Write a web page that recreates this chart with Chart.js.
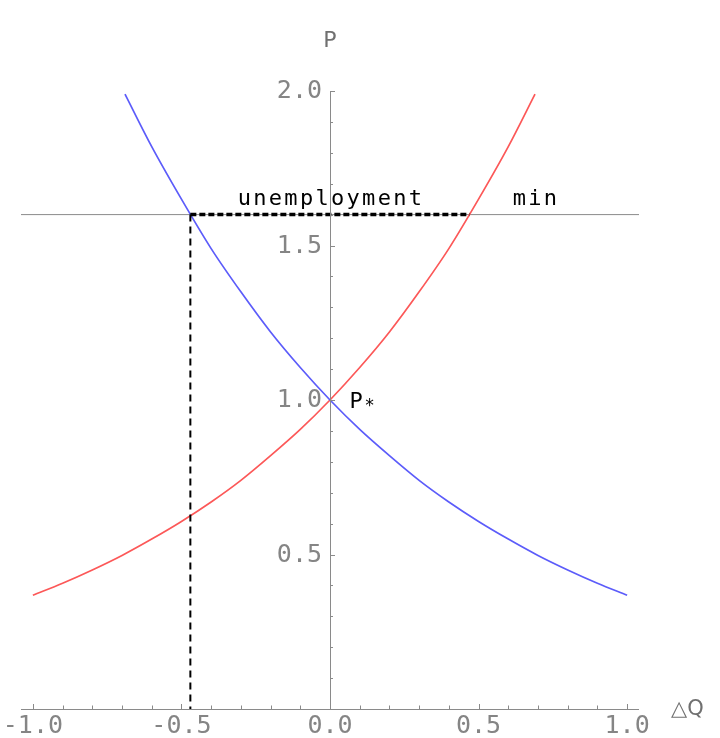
<!DOCTYPE html>
<html>
<head>
<meta charset="utf-8">
<script src="https://cdn.jsdelivr.net/npm/chart.js@4.4.1/dist/chart.umd.min.js"></script>
<style>
  html, body { margin: 0; padding: 0; background: #fff; }
  #wrap { width: 720px; height: 738px; position: relative; }
</style>
</head>
<body>
<div id="wrap"><canvas id="myChart"></canvas></div>
<script>
// demand curve (blue)
const demandQ = [-0.69, -0.6, -0.5, -0.4, -0.3, -0.2, -0.1, 0.0, 0.1, 0.2, 0.3, 0.4, 0.5, 0.6, 0.7, 0.8, 0.9, 1.0];
const demandP = [1.99, 1.82, 1.65, 1.49, 1.35, 1.22, 1.105, 1.0, 0.905, 0.82, 0.74, 0.67, 0.607, 0.55, 0.497, 0.45, 0.407, 0.368];

// supply curve (red)
const supplyQ = [-1.0, -0.9, -0.8, -0.7, -0.6, -0.5, -0.4, -0.3, -0.2, -0.1, 0.0, 0.1, 0.2, 0.3, 0.4, 0.5, 0.6, 0.69];
const supplyP = [0.368, 0.407, 0.45, 0.497, 0.55, 0.607, 0.67, 0.74, 0.82, 0.905, 1.0, 1.105, 1.22, 1.35, 1.49, 1.65, 1.82, 1.99];

// minimum price line and the gap
const pMin = 1.6;
const qDemandAtMin = -0.47;
const qSupplyAtMin = 0.47;
const pStar = 1.0;

// axes
const qRange = [-1.04, 1.04];
const pRange = [0, 2.0];
const xTicks = [-1.0, -0.5, 0.0, 0.5, 1.0];
const yTicks = [0.5, 1.0, 1.5, 2.0];
const minorStep = 0.1;

const toPts = (xs, ys) => xs.map((x, i) => ({ x: x, y: ys[i] }));

const GRAY = "#8a8a8a";
const LABEL_GRAY = "#858585";

const axesPlugin = {
  id: "mathAxes",
  afterDatasetsDraw(chart) {
    const ctx = chart.ctx;
    const xs = chart.scales.x, ys = chart.scales.y;
    const x0 = xs.getPixelForValue(0);
    const y0 = ys.getPixelForValue(0);
    const left = xs.getPixelForValue(qRange[0]);
    const right = xs.getPixelForValue(qRange[1]);
    const top = ys.getPixelForValue(pRange[1]);

    ctx.save();
    ctx.strokeStyle = GRAY;
    ctx.lineWidth = 1;
    ctx.beginPath();
    ctx.moveTo(left, Math.round(y0) + 0.5);
    ctx.lineTo(right, Math.round(y0) + 0.5);
    ctx.moveTo(Math.round(x0) + 0.5, y0);
    ctx.lineTo(Math.round(x0) + 0.5, top);
    ctx.stroke();

    // x minor / major ticks (pointing up)
    ctx.beginPath();
    for (let i = -10; i <= 10; i++) {
      const v = i * minorStep;
      const px = Math.round(xs.getPixelForValue(v)) + 0.5;
      const len = (i % 5 === 0) ? 5 : 3.5;
      ctx.moveTo(px, y0);
      ctx.lineTo(px, y0 - len);
    }
    // y minor / major ticks (pointing right)
    for (let i = 1; i <= 20; i++) {
      const v = i * minorStep;
      const py = Math.round(ys.getPixelForValue(v)) + 0.5;
      const len = (i % 5 === 0) ? 5 : 3;
      ctx.moveTo(x0, py);
      ctx.lineTo(x0 + len, py);
    }
    ctx.stroke();

    // tick labels
    ctx.fillStyle = LABEL_GRAY;
    ctx.font = "25px 'DejaVu Sans Mono'";
    ctx.textAlign = "center";
    ctx.textBaseline = "alphabetic";
    xTicks.forEach(v => {
      ctx.fillText(v.toFixed(1), xs.getPixelForValue(v), y0 + 24);
    });
    ctx.textAlign = "right";
    yTicks.forEach(v => {
      ctx.fillText(v.toFixed(1), x0 - 8, ys.getPixelForValue(v) + 7);
    });

    // axis labels
    ctx.fillStyle = "#707070";
    ctx.font = "22px 'DejaVu Sans'";
    ctx.textAlign = "center";
    ctx.fillText("P", x0, top - 44);
    ctx.textAlign = "left";
    ctx.font = "21px 'DejaVu Sans'";
    ctx.fillText("\u25B3Q", right + 32, y0 + 6);

    // annotations
    ctx.fillStyle = "#000";
    ctx.font = "22px 'DejaVu Sans Mono'";
    ctx.letterSpacing = "2.3px";
    ctx.textAlign = "center";
    ctx.fillText("unemployment", xs.getPixelForValue(0) + 1, ys.getPixelForValue(pMin) - 10);
    ctx.fillText("min", xs.getPixelForValue(0.69) + 1, ys.getPixelForValue(pMin) - 10);
    ctx.letterSpacing = "0px";
    ctx.textAlign = "left";
    const sx = xs.getPixelForValue(0.066);
    const sy = ys.getPixelForValue(pStar);
    ctx.fillText("P", sx, sy + 8);
    ctx.font = "17px 'DejaVu Sans Mono'";
    ctx.fillText("*", sx + 15, sy + 11);
    ctx.restore();
  }
};

new Chart(document.getElementById("myChart").getContext("2d"), {
  type: "scatter",
  data: {
    datasets: [
      {
        label: "unemployment",
        data: toPts([qDemandAtMin, qSupplyAtMin], [pMin, pMin]),
        showLine: true,
        borderColor: "#000",
        borderWidth: 3.5,
        borderDash: [6, 3],
        borderCapStyle: "butt",
        pointRadius: 0,
      },
      {
        label: "drop",
        data: toPts([qDemandAtMin, qDemandAtMin], [pMin, 0]),
        showLine: true,
        borderColor: "#000",
        borderWidth: 2,
        borderDash: [7, 5],
        pointRadius: 0,
      },
      {
        label: "demand",
        data: toPts(demandQ, demandP),
        showLine: true,
        borderColor: "rgb(92,92,250)",
        borderWidth: 1.7,
        cubicInterpolationMode: "monotone",
        pointRadius: 0,
      },
      {
        label: "supply",
        data: toPts(supplyQ, supplyP),
        showLine: true,
        borderColor: "rgb(252,88,88)",
        borderWidth: 1.7,
        cubicInterpolationMode: "monotone",
        pointRadius: 0,
      },
      {
        label: "min price",
        data: toPts(qRange, [pMin, pMin]),
        showLine: true,
        borderColor: GRAY,
        borderWidth: 1,
        pointRadius: 0,
      },
    ],
  },
  options: {
    responsive: true,
    maintainAspectRatio: false,
    animation: false,
    layout: { padding: { left: 21, right: 81, top: 91, bottom: 29 } },
    plugins: { legend: { display: false }, tooltip: { enabled: false } },
    scales: {
      x: { type: "linear", min: qRange[0], max: qRange[1], display: false },
      y: { type: "linear", min: pRange[0], max: pRange[1], display: false },
    },
  },
  plugins: [axesPlugin],
});
</script>
</body>
</html>
